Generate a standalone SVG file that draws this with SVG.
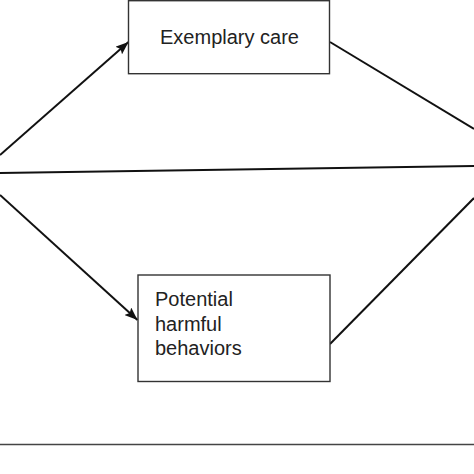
<svg xmlns="http://www.w3.org/2000/svg" width="474" height="474" viewBox="0 0 474 474">
<defs>
<style>
.box{fill:#fff;stroke:#333;stroke-width:1.4}
.lbl{font-family:"Liberation Sans",Arial,sans-serif;font-size:20px;fill:#222}
.edge{stroke:#111;stroke-width:2;fill:none}
</style>
<marker id="ah" markerWidth="13" markerHeight="10" refX="13" refY="5" orient="auto" markerUnits="userSpaceOnUse">
<path d="M0,0 L13,5 L0,10 L2.5,5 Z" fill="#111"/>
</marker>
</defs>
<rect width="474" height="474" fill="#fff"/>
<g id="connectors">
<line class="edge" x1="0" y1="155" x2="128.5" y2="42" marker-end="url(#ah)"/>
<line class="edge" x1="0" y1="195" x2="137.5" y2="320" marker-end="url(#ah)"/>
<line class="edge" x1="330" y1="42" x2="474" y2="129"/>
<line class="edge" x1="330" y1="344" x2="474" y2="198"/>
<line class="edge" x1="0" y1="173" x2="474" y2="166"/>
<line x1="0" y1="444.5" x2="474" y2="444.5" stroke="#444" stroke-width="1.5"/>
</g>
<g id="exemplary-care">
<rect class="box" x="128.5" y="0.7" width="201" height="73" style="stroke-dasharray:0"/>
<text class="lbl" x="229.5" y="44.3" text-anchor="middle">Exemplary care</text>
</g>
<g id="potential-harmful">
<rect class="box" x="138" y="275" width="192" height="106.5"/>
<text class="lbl" x="155" y="306">Potential</text>
<text class="lbl" x="155" y="330.5">harmful</text>
<text class="lbl" x="155" y="355">behaviors</text>
</g>
</svg>
